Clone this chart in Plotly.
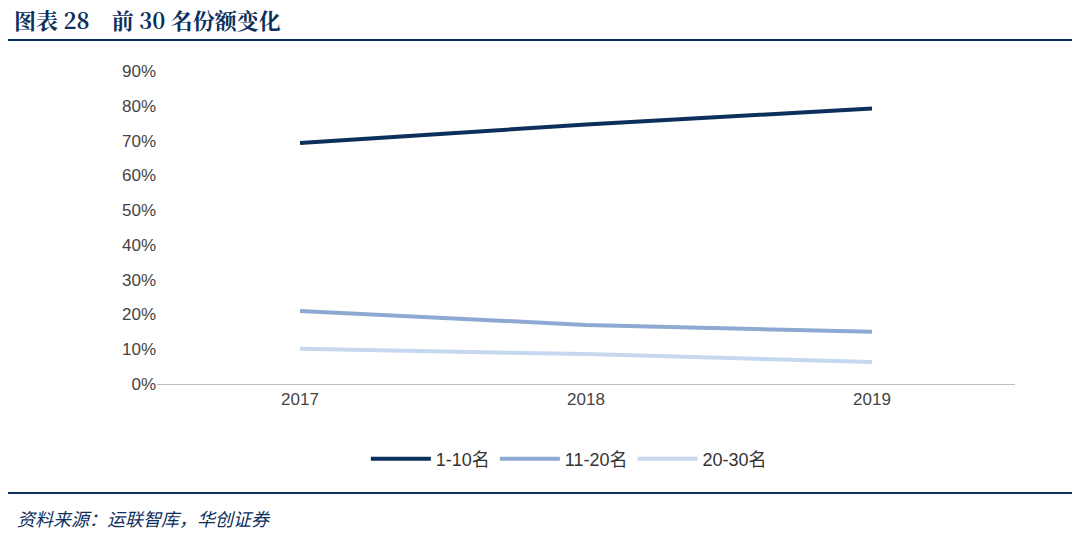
import plotly.graph_objects as go

years = ["2017", "2018", "2019"]
top10 = [69.3, 74.6, 79.2]
mid = [21.0, 17.0, 15.0]
low = [10.1, 8.6, 6.3]
names = ["1-10名", "11-20名", "20-30名"]
colors = ["#0c2f5c", "#8ea9d1", "#c6d8ef"]

fig = go.Figure()
fig.add_trace(go.Scatter(x=years, y=top10, name=names[0], mode="lines", line=dict(color=colors[0], width=4)))
fig.add_trace(go.Scatter(x=years, y=mid, name=names[1], mode="lines", line=dict(color=colors[1], width=4)))
fig.add_trace(go.Scatter(x=years, y=low, name=names[2], mode="lines", line=dict(color=colors[2], width=4)))

shifts = [(23, 16), (41, 12), (38, 0)]
for yr, v, (dx, dy) in zip(years, top10, shifts):
    fig.add_annotation(x=yr, y=v, text=f"{v}%", showarrow=False, xshift=dx, yshift=dy,
                       font=dict(size=18, color="#333", family="Liberation Sans"))

fig.update_layout(
    width=1080, height=534, paper_bgcolor="white", plot_bgcolor="white",
    margin=dict(l=149, r=73, t=63, b=158),
    font=dict(family="Liberation Sans, Noto Sans CJK SC", size=17, color="#444"),
    xaxis=dict(type="category", range=[-0.5, 2.5], showline=True, linecolor="#bfbfbf",
               ticks="", showgrid=False, tickfont=dict(size=17)),
    yaxis=dict(range=[0, 90], dtick=10, ticksuffix="%", showgrid=False, zeroline=False,
               tickfont=dict(size=17)),
    legend=dict(orientation="h", x=0.48, xanchor="center", y=-0.24, yanchor="middle",
                font=dict(size=18, color="#333"), itemwidth=60),
    showlegend=True,
)
fig.add_annotation(xref="paper", yref="paper", x=-0.169, y=1.163, xanchor="left", yanchor="middle",
    text="<b>图表 28　前 30 名份额变化</b>", showarrow=False,
    font=dict(size=22, color="#0c2f5c", family="Noto Serif CJK SC, Noto Sans CJK SC"))
fig.add_shape(type="line", xref="paper", yref="paper", x0=-0.174, x1=1.076, y0=1.099, y1=1.099,
    line=dict(color="#0c2f5c", width=2))
fig.add_shape(type="line", xref="paper", yref="paper", x0=-0.174, x1=1.076, y0=-0.348, y1=-0.348,
    line=dict(color="#0c2f5c", width=2))
fig.add_annotation(xref="paper", yref="paper", x=-0.166, y=-0.428, xanchor="left", yanchor="middle",
    text="<i>资料来源：运联智库，华创证券</i>", showarrow=False,
    font=dict(size=18, color="#0c2f5c", family="Noto Sans CJK SC"))
fig.write_html("out.html")
